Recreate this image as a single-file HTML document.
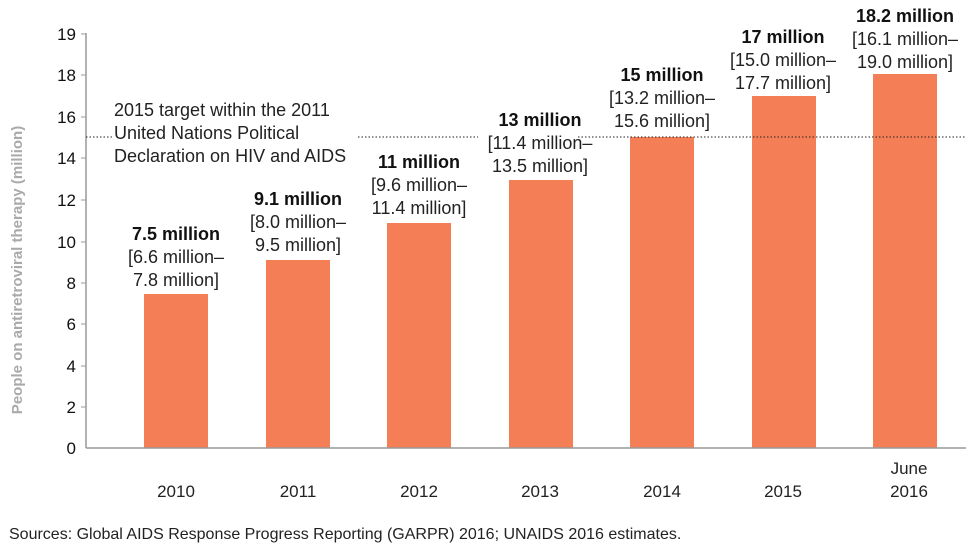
<!DOCTYPE html>
<html><head><meta charset="utf-8"><style>
body{margin:0;background:#fff;}
text{font-family:"Liberation Sans",sans-serif;}
</style></head><body>
<svg width="966" height="550" xmlns="http://www.w3.org/2000/svg">
<g fill="#F47F57">
<rect x="144" y="294" width="64" height="154"/>
<rect x="266" y="260" width="64" height="188"/>
<rect x="387" y="223" width="64" height="225"/>
<rect x="509" y="180" width="64" height="268"/>
<rect x="630" y="137" width="64" height="311"/>
<rect x="752" y="96" width="64" height="352"/>
<rect x="873" y="74" width="64" height="374"/>
</g>
<line x1="86" y1="33" x2="86" y2="448" stroke="#999" stroke-width="1.5"/>
<line x1="86" y1="448" x2="966" y2="448" stroke="#999" stroke-width="1.5"/>
<g stroke="#999" stroke-width="1">
<line x1="81" y1="34" x2="86" y2="34"/><line x1="81" y1="75" x2="86" y2="75"/>
<line x1="81" y1="117" x2="86" y2="117"/><line x1="81" y1="158" x2="86" y2="158"/>
<line x1="81" y1="200" x2="86" y2="200"/><line x1="81" y1="242" x2="86" y2="242"/>
<line x1="81" y1="283" x2="86" y2="283"/><line x1="81" y1="324" x2="86" y2="324"/>
<line x1="81" y1="366" x2="86" y2="366"/><line x1="81" y1="407" x2="86" y2="407"/>
</g>
<g font-size="17" fill="#111" text-anchor="end">
<text x="76" y="40">19</text><text x="76" y="81">18</text><text x="76" y="123">16</text>
<text x="76" y="164">14</text><text x="76" y="206">12</text><text x="76" y="248">10</text>
<text x="76" y="289">8</text><text x="76" y="330">6</text><text x="76" y="372">4</text>
<text x="76" y="413">2</text><text x="76" y="454">0</text>
</g>
<text transform="translate(22,270) rotate(-90)" text-anchor="middle" font-size="15" font-weight="bold" fill="#aaa">People on antiretroviral therapy (million)</text>
<g stroke="#222" stroke-width="1" stroke-dasharray="1.5,2">
<line x1="86" y1="137" x2="113" y2="137"/>
<line x1="358" y1="137" x2="478" y2="137"/>
<line x1="578" y1="137" x2="966" y2="137"/>
</g>
<g font-size="18" fill="#222">
<text x="114" y="116">2015 target within the 2011</text>
<text x="114" y="139">United Nations Political</text>
<text x="114" y="162">Declaration on HIV and AIDS</text>
</g>
<g font-size="18" fill="#222" text-anchor="middle">
<text x="176" y="240" font-weight="bold" fill="#111">7.5 million</text>
<text x="176" y="263">[6.6 million–</text><text x="176" y="286">7.8 million]</text>
<text x="298" y="205" font-weight="bold" fill="#111">9.1 million</text>
<text x="298" y="228">[8.0 million–</text><text x="298" y="251">9.5 million]</text>
<text x="419" y="168" font-weight="bold" fill="#111">11 million</text>
<text x="419" y="191">[9.6 million–</text><text x="419" y="214">11.4 million]</text>
<text x="540" y="126" font-weight="bold" fill="#111">13 million</text>
<text x="540" y="149">[11.4 million–</text><text x="540" y="172">13.5 million]</text>
<text x="662" y="81" font-weight="bold" fill="#111">15 million</text>
<text x="662" y="104">[13.2 million–</text><text x="662" y="127">15.6 million]</text>
<text x="783" y="43" font-weight="bold" fill="#111">17 million</text>
<text x="783" y="66">[15.0 million–</text><text x="783" y="89">17.7 million]</text>
<text x="905" y="22" font-weight="bold" fill="#111">18.2 million</text>
<text x="905" y="45">[16.1 million–</text><text x="905" y="68">19.0 million]</text>
</g>
<g font-size="17" fill="#222" text-anchor="middle">
<text x="176" y="497">2010</text><text x="298" y="497">2011</text><text x="419" y="497">2012</text>
<text x="540" y="497">2013</text><text x="662" y="497">2014</text><text x="783" y="497">2015</text>
<text x="909" y="474">June</text><text x="909" y="497">2016</text>
</g>
<text x="9" y="539" font-size="16" fill="#222">Sources: Global AIDS Response Progress Reporting (GARPR) 2016; UNAIDS 2016 estimates.</text>
</svg>
</body></html>
